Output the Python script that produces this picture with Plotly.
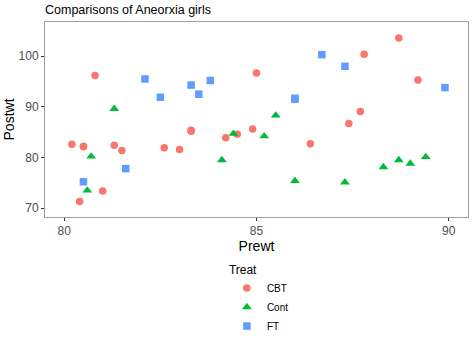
import plotly.graph_objects as go

# Anorexia data (MASS), Prewt within 80-90
cbt_pre = [80.5, 84.9, 81.5, 82.6, 88.7, 81.0, 80.5, 85.0, 89.2, 81.3, 80.4,
           83.3, 83.0, 87.7, 84.2, 86.4, 80.2, 87.8, 83.3, 84.5, 80.8, 87.4]
cbt_post = [82.2, 85.6, 81.4, 81.9, 103.6, 73.4, 82.1, 96.7, 95.3, 82.4, 71.3,
            85.4, 81.6, 89.1, 83.9, 82.7, 82.6, 100.4, 85.2, 84.6, 96.2, 86.7]
cont_pre = [80.7, 89.4, 88.3, 87.3, 80.6, 88.7, 81.3, 85.2, 86.0, 84.1, 85.5, 84.4, 89.0]
cont_post = [80.2, 80.1, 78.1, 75.1, 73.5, 79.5, 89.6, 84.2, 75.4, 79.5, 88.3, 84.7, 78.8]
ft_pre = [83.8, 83.3, 86.0, 82.5, 86.7, 80.5, 81.6, 82.1, 83.5, 89.9, 86.0, 87.3]
ft_post = [95.2, 94.3, 91.5, 91.9, 100.3, 75.2, 77.8, 95.5, 92.5, 93.8, 91.7, 98.0]

x_ticks = [80, 85, 90]
y_ticks = [70, 80, 90, 100]

series = [
    ("CBT", cbt_pre, cbt_post, "#F8766D", "circle", 7.5),
    ("Cont", cont_pre, cont_post, "#00BA38", "triangle-up", 8.5),
    ("FT", ft_pre, ft_post, "#619CFF", "square", 7.5),
]

fig = go.Figure()
for name, xs, ys, col, sym, sz in series:
    fig.add_trace(go.Scatter(
        x=xs, y=ys, mode="markers", name=name,
        marker=dict(color=col, symbol=sym, size=sz, line=dict(width=0)),
    ))

font = "Liberation Sans, Arial, sans-serif"
fig.update_layout(
    width=474, height=338,
    margin=dict(l=45, r=6, t=22, b=121, autoexpand=False),
    paper_bgcolor="white", plot_bgcolor="white",
    font=dict(family=font, color="black"),
    title=dict(text="Comparisons of Aneorxia girls", x=45/474, xanchor="left",
               y=1 - 10/338, yanchor="middle", font=dict(size=12.5, color="black")),
    showlegend=True,
    legend=dict(
        title=dict(text="Treat", side="top", font=dict(size=12, color="black")),
        orientation="v", x=0.43, xanchor="left", y=-0.21, yanchor="top",
        font=dict(size=10, color="black"), itemsizing="trace",
        bgcolor="rgba(0,0,0,0)",
    ),
)
fig.update_xaxes(
    range=[79.5, 90.5], tickvals=x_ticks, ticks="outside", ticklen=3,
    tickcolor="#333333", tickfont=dict(size=12, color="#4D4D4D"),
    showgrid=False, zeroline=False, showline=True, linecolor="#A0A0A0",
    linewidth=1, mirror=True,
    title=dict(text="Prewt", font=dict(size=14, color="black"), standoff=2),
)
fig.update_yaxes(
    range=[68.25, 106.75], tickvals=y_ticks, ticks="outside", ticklen=3,
    tickcolor="#333333", tickfont=dict(size=12, color="#4D4D4D"),
    showgrid=False, zeroline=False, showline=True, linecolor="#A0A0A0",
    linewidth=1, mirror=True,
    title=dict(text="Postwt", font=dict(size=14, color="black"), standoff=0),
)

fig.write_html("out.html")
